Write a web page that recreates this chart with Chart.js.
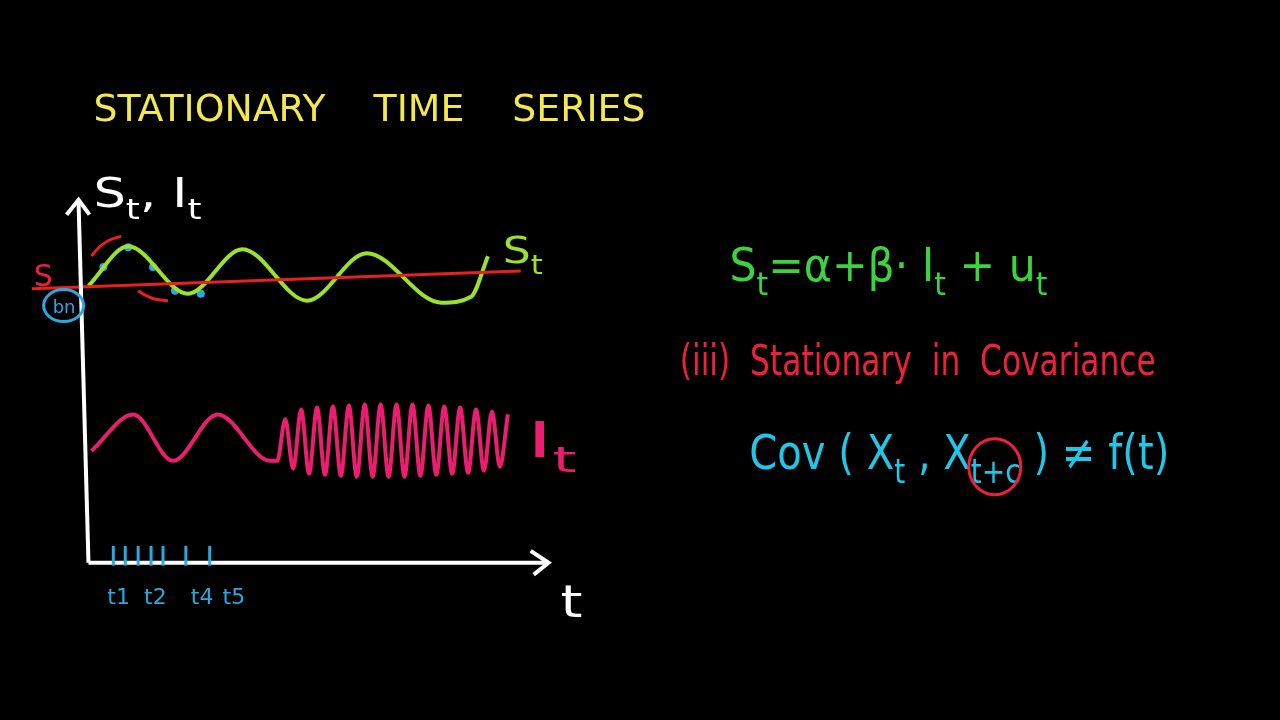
<!DOCTYPE html>
<html><head><meta charset="utf-8">
<script src="https://cdn.jsdelivr.net/npm/chart.js@4"></script>
<style>html,body{margin:0;background:#000}#c{display:block}</style>
</head><body>
<div style="width:1280px;height:720px"><canvas id="c"></canvas></div>
<script>
// board coordinates: x across, y down (same units as the 1280x720 board)
const stX = [85, 125, 185, 240, 305, 365, 440, 470, 487]
const stY = [285, 245, 293, 248, 300, 252, 302, 296, 255]
const meanX = [28, 520]
const meanY = [288, 270]
const itX = [88, 130, 170, 215, 268, 275, 283, 291, 299, 307, 315, 323, 331, 339, 347, 355, 363, 371, 379, 387, 395, 403, 411, 419, 427, 435, 443, 451, 459, 467, 475, 483, 491, 499, 507]
const itY = [452, 415, 462, 415, 462, 462, 420, 470, 410, 475, 408, 476, 407, 477, 406, 478, 405, 478, 405, 478, 405, 478, 405, 477, 406, 476, 407, 475, 408, 474, 410, 472, 412, 468, 415]
const dotX = [100, 125, 150, 172, 198]
const dotY = [266, 246, 266, 290, 293]
const tickX = [110, 122, 135, 148, 160, 183, 207]
const tickLabels = [['t1', 116], ['t2', 153], ['t4', 200], ['t5', 232]]

const pts = (xs, ys) => xs.map((x, i) => ({ x, y: ys[i] }))
const line = (data, color, width, smooth = false) => ({
  data, borderColor: color, borderWidth: width, showLine: true, pointRadius: 0,
  cubicInterpolationMode: smooth ? 'monotone' : 'default', fill: false
})

const FONT = '"DejaVu Sans", sans-serif'

const board = {
  id: 'board',
  beforeDraw(chart) {
    const { ctx } = chart
    ctx.save()
    ctx.fillStyle = '#000'
    ctx.fillRect(0, 0, chart.width, chart.height)
    ctx.restore()
  },
  afterDraw(chart) {
    const { ctx, scales: { x, y } } = chart
    const X = v => x.getPixelForValue(v), Y = v => y.getPixelForValue(v)
    // segments: [text, isSubscript]; squeezed horizontally to the given width
    const rich = (segs, px, py, w, color, size) => {
      ctx.save()
      ctx.fillStyle = color
      const fSize = s => (s ? size * 0.7 : size) + 'px ' + FONT
      let total = 0
      segs.forEach(([s, sub]) => { ctx.font = fSize(sub); total += ctx.measureText(s).width })
      ctx.translate(X(px), Y(py))
      ctx.scale(w / total, 1)
      let cx = 0
      segs.forEach(([s, sub]) => {
        ctx.font = fSize(sub)
        ctx.fillText(s, cx, sub ? size * 0.3 : 0)
        cx += ctx.measureText(s).width
      })
      ctx.restore()
    }
    rich([['STATIONARY    TIME    SERIES']], 90, 118, 552, '#f2e94e', 38)
    rich([['S'], ['t', 1], [', I'], ['t', 1]], 90, 205, 108, '#fff', 40)
    rich([['S'], ['t', 1]], 502, 262, 40, '#9be22d', 38)
    rich([['I'], ['t', 1]], 526, 458, 50, '#ea1e6e', 50)
    rich([['t']], 560, 620, 22, '#fff', 44)
    rich([['S'], ['t', 1], ['=α+β· I'], ['t', 1], [' + u'], ['t', 1]], 730, 280, 318, '#3cd43c', 46)
    rich([['(iii)  Stationary  in  Covariance']], 680, 375, 476, '#f0203a', 42)
    rich([['Cov ( X'], ['t', 1], [' , X'], ['t+c', 1], [' ) ≠ f(t)']], 750, 470, 420, '#1fc8e8', 48)
    ctx.save()
    // red circle around +c
    ctx.strokeStyle = '#f0203a'; ctx.lineWidth = 3
    ctx.beginPath(); ctx.ellipse(X(997), Y(468), 26, 28, 0, 0, Math.PI * 2); ctx.stroke()
    // blue tick marks and labels
    ctx.strokeStyle = '#2aa8e0'; ctx.lineWidth = 3
    tickX.forEach(t => { ctx.beginPath(); ctx.moveTo(X(t), Y(548)); ctx.lineTo(X(t), Y(568)); ctx.stroke() })
    ctx.fillStyle = '#2aa8e0'
    ctx.font = '22px ' + FONT
    tickLabels.forEach(([s, px]) => ctx.fillText(s, X(px) - 12, Y(607)))
    // blue bubble
    ctx.beginPath(); ctx.ellipse(X(60), Y(305), 20, 16, 0, 0, Math.PI * 2); ctx.stroke()
    ctx.font = '18px ' + FONT
    ctx.fillText('bn', X(49), Y(312))
    ctx.fillStyle = '#f0203a'
    ctx.font = '30px ' + FONT
    ctx.fillText('S', X(30), Y(285))
    // red arrows near first hump
    ctx.strokeStyle = '#e8201e'
    ctx.beginPath(); ctx.moveTo(X(88), Y(255)); ctx.quadraticCurveTo(X(100), Y(238), X(118), Y(235)); ctx.stroke()
    ctx.beginPath(); ctx.moveTo(X(135), Y(290)); ctx.quadraticCurveTo(X(148), Y(300), X(165), Y(300)); ctx.stroke()
    ctx.restore()
  }
}

new Chart(document.getElementById('c'), {
  type: 'scatter',
  data: {
    datasets: [
      line([{ x: 85, y: 565 }, { x: 548, y: 565 }], '#fff', 4),
      line([{ x: 530, y: 553 }, { x: 548, y: 565 }, { x: 533, y: 577 }], '#fff', 4),
      line([{ x: 85, y: 565 }, { x: 75, y: 200 }], '#fff', 4),
      line([{ x: 63, y: 213 }, { x: 75, y: 198 }, { x: 86, y: 213 }], '#fff', 4),
      line(pts(meanX, meanY), '#e8201e', 3),
      line(pts(stX, stY), '#9be22d', 4, true),
      line(pts(itX, itY), '#ea1e6e', 4, true),
      { data: pts(dotX, dotY), pointRadius: 4, backgroundColor: '#2aa8e0', borderWidth: 0 }
    ]
  },
  options: {
    responsive: true, maintainAspectRatio: false, animation: false,
    layout: { padding: 0 },
    plugins: { legend: { display: false }, tooltip: { enabled: false } },
    scales: {
      x: { type: 'linear', min: 0, max: 1280, display: false },
      y: { type: 'linear', min: 0, max: 720, reverse: true, display: false }
    }
  },
  plugins: [board]
})
</script>
</body></html>
